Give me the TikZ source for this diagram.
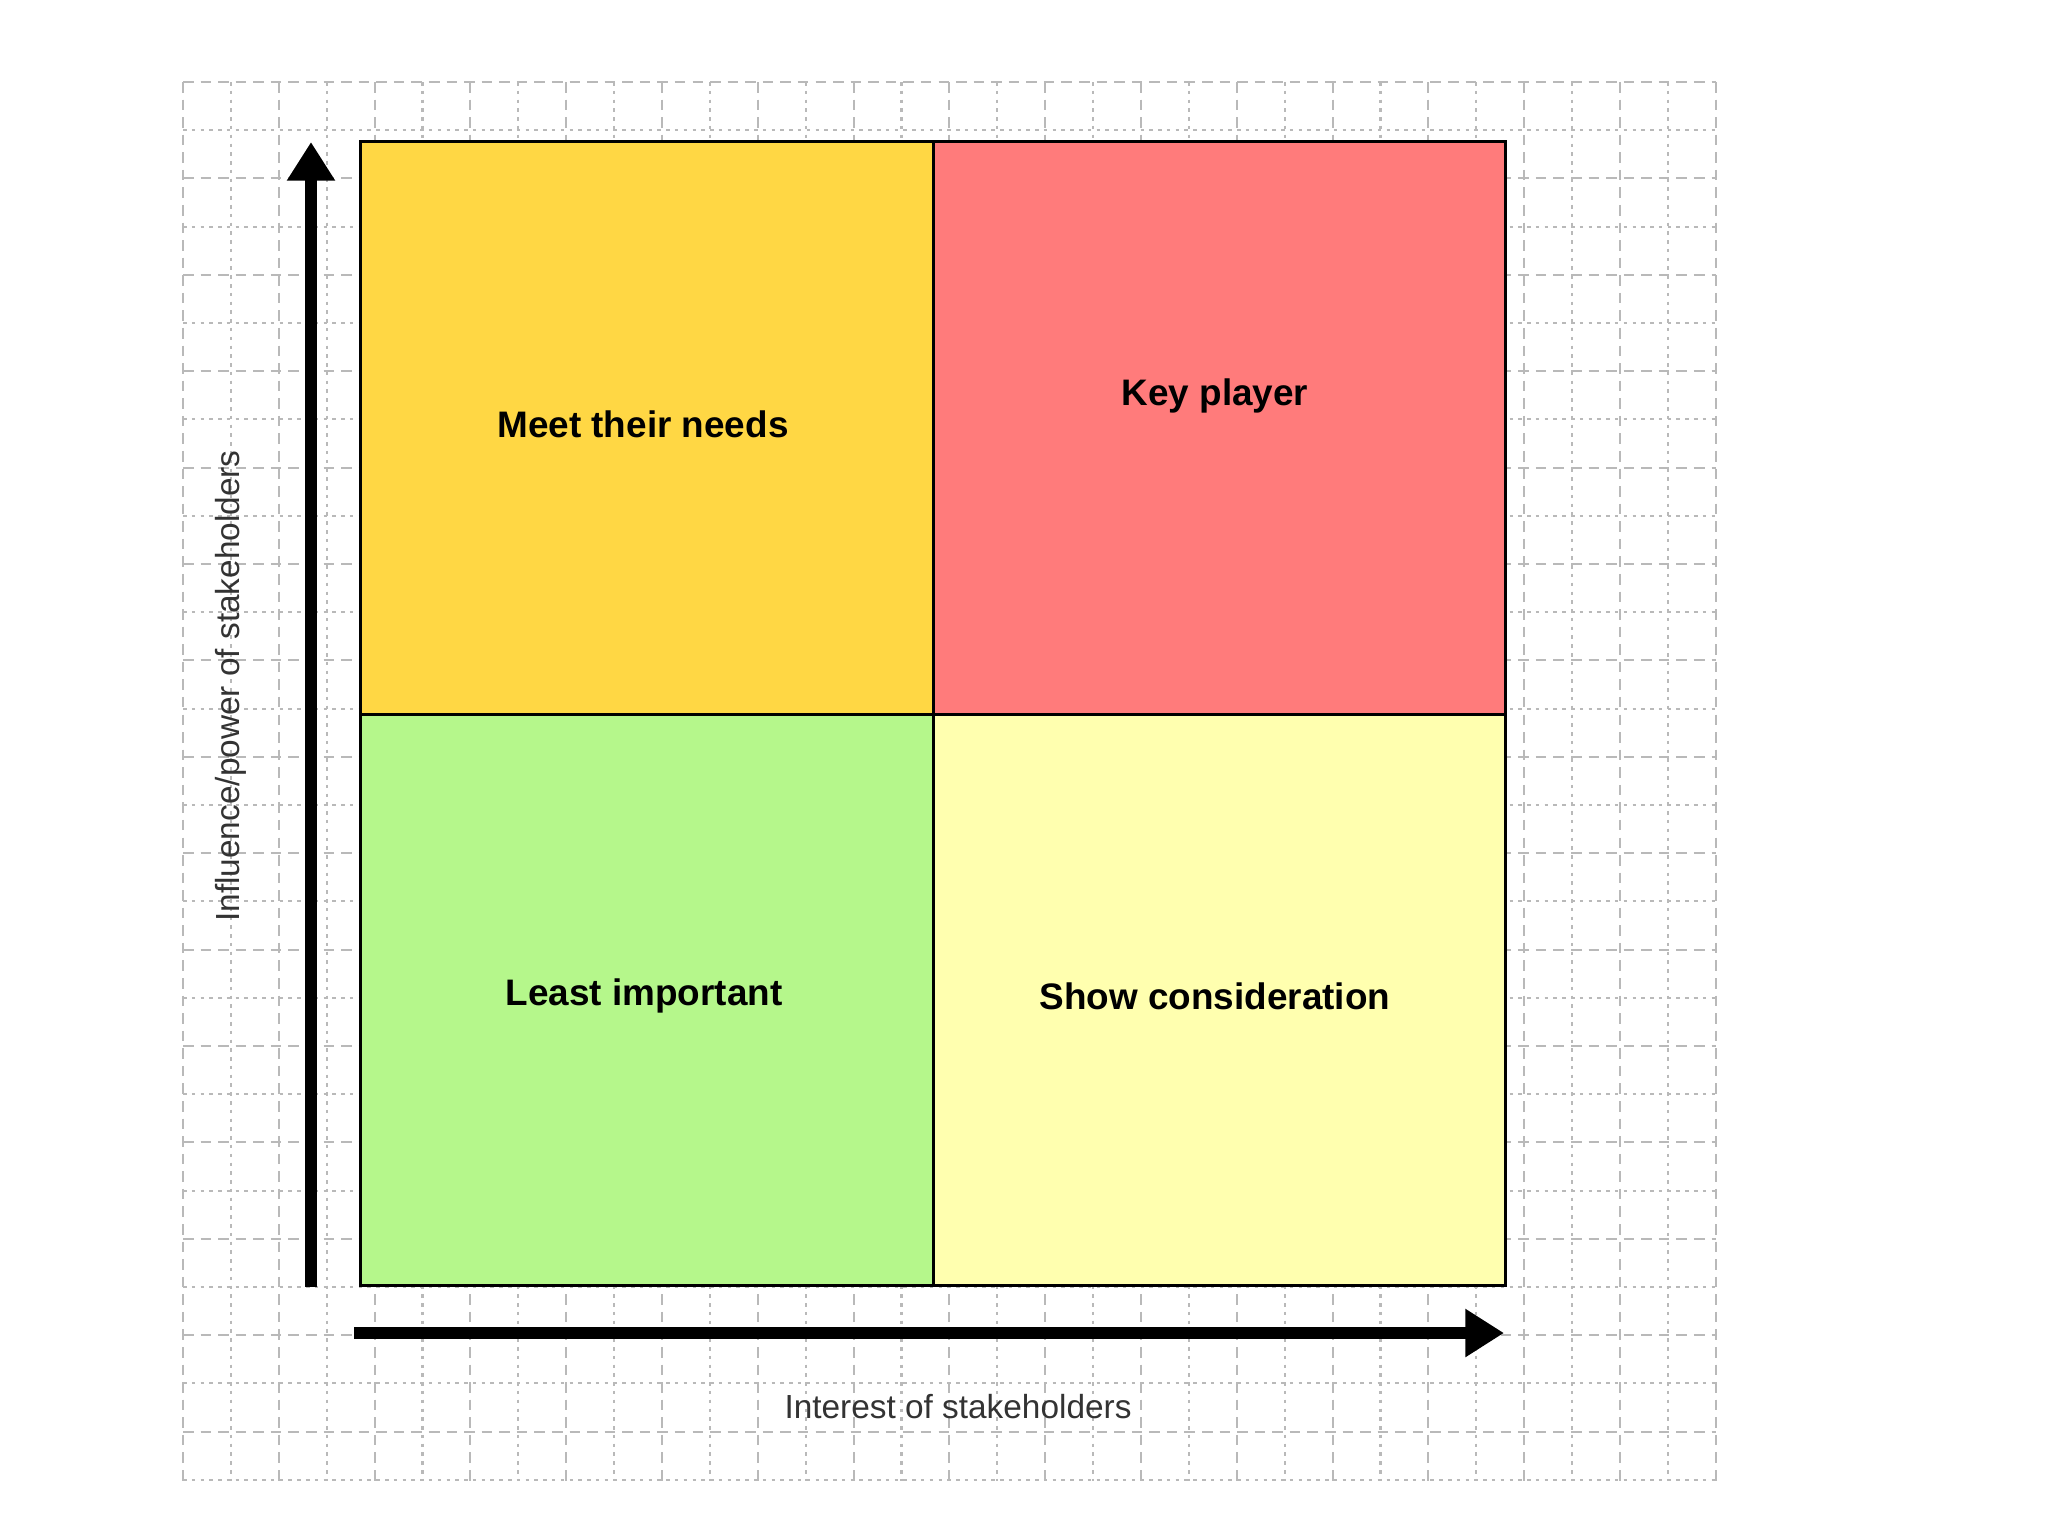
\documentclass[tikz,border=0pt]{standalone}
\usepackage{fontspec}
\setmainfont{Liberation Sans}
\usetikzlibrary{arrows.meta}
\definecolor{cY}{HTML}{FFD744}
\definecolor{cR}{HTML}{FF7B7B}
\definecolor{cG}{HTML}{B5F78B}
\definecolor{cL}{HTML}{FFFFAF}
\tikzset{quad/.style={draw=black,line width=1.5pt},
 qlabel/.style={font=\fontsize{21}{24}\selectfont\bfseries},
 gridA/.style={draw=gray!55,line width=1.2pt,dash pattern=on 6pt off 4pt},
 gridB/.style={draw=gray!55,line width=1.2pt,dash pattern=on 2pt off 3pt},
 axis/.style={line width=6.5pt,-{Triangle[length=22pt,width=26pt]}}}
\begin{document}
\begin{tikzpicture}[x=0.02cm,y=-0.02cm]
\useasboundingbox (0,0) rectangle (2048,1536);
\fill[white] (0,0) rectangle (2048,1536);
\foreach \i in {0,...,32}{
  \pgfmathsetmacro{\xx}{183+47.9*\i}
  \ifodd\i \draw[gridB] (\xx,82) -- (\xx,1481); \else \draw[gridA] (\xx,82) -- (\xx,1481); \fi}
\foreach \j in {0,...,29}{
  \pgfmathsetmacro{\yy}{82+48.2*\j}
  \ifodd\j \draw[gridB] (183,\yy) -- (1716,\yy); \else \draw[gridA] (183,\yy) -- (1716,\yy); \fi}
\node[quad,fill=cY,minimum width=573\pgflinewidth,inner sep=0,anchor=north west,minimum width=11.46cm,minimum height=11.46cm] (q1) at (359,140) {};
\node[quad,fill=cR,inner sep=0,anchor=north west,minimum width=11.44cm,minimum height=11.46cm] (q2) at (932,140) {};
\node[quad,fill=cG,inner sep=0,anchor=north west,minimum width=11.46cm,minimum height=11.42cm] (q3) at (359,713) {};
\node[quad,fill=cL,inner sep=0,anchor=north west,minimum width=11.44cm,minimum height=11.42cm] (q4) at (932,713) {};
\node[qlabel] (t1) at (643,424) {Meet their needs};
\node[qlabel] (t2) at (1215,396) {Key player};
\node[qlabel] (t3) at (644,996) {Least important};
\node[qlabel] (t4) at (1215,996) {Show consideration};
\coordinate (ya) at (311,1287);
\coordinate (yb) at (311,142);
\coordinate (xa) at (354,1333);
\coordinate (xb) at (1504,1333);
\draw[axis] (ya) -- (yb);
\draw[axis] (xa) -- (xb);
\node[rotate=90,font=\fontsize{19}{22}\selectfont,text=black!80] (ly) at (231,686) {Influence/power of stakeholders};
\node[font=\fontsize{19}{22}\selectfont,text=black!80] (lx) at (958,1407) {Interest of stakeholders};
\end{tikzpicture}
\end{document}
